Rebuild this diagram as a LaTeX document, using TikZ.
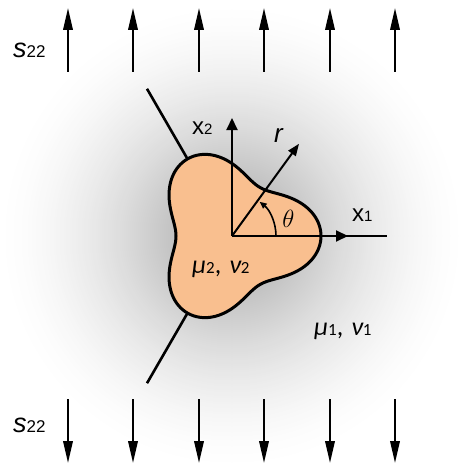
\documentclass[tikz,border=0pt]{standalone}
\usepackage{fontspec}
\setmainfont{Liberation Sans}
\newfontfamily\calib{Carlito}
\usetikzlibrary{arrows.meta}
\definecolor{incl}{RGB}{249,191,143}
\tikzset{
  load/.style={line width=2pt, -{Triangle[length=22pt,width=9.5pt]}},
  axisline/.style={line width=2pt},
  axisarrow/.style={line width=2pt, -{Triangle[length=12pt,width=11pt]}},
  rayarrow/.style={line width=2pt, -{Triangle[length=12pt,width=9pt]}},
  arcarrow/.style={line width=1.6pt, -{Triangle[length=7pt,width=6pt]}},
  crack/.style={line width=2.6pt},
  bnd/.style={line width=3pt, fill=incl},
  lbl/.style={inner sep=0pt, anchor=base west, text=black},
}
\begin{document}
\begin{tikzpicture}[x=1pt,y=-1pt]
\useasboundingbox (0,0) rectangle (474,476);
\fill[white] (0,0) rectangle (474,476);
% radial grey background
\foreach \r in {234,232,...,2}{
  \pgfmathsetmacro\g{1-0.38*(1-\r/235)^1.6}
  \definecolor{curgray}{gray}{\g}
  \fill[curgray] (232,236) circle (\r);
}
% load arrows
\foreach \i/\x in {1/68,2/133,3/199,4/264,5/330,6/395}{
  \coordinate (ta\i) at (\x,72);
  \coordinate (tb\i) at (\x,8);
  \draw[load] (ta\i) -- (tb\i);
  \coordinate (ba\i) at (\x,399);
  \coordinate (bb\i) at (\x,463);
  \draw[load] (ba\i) -- (bb\i);
}
\begin{scope}[shift={(232,236)},yscale=-1]
  \coordinate (O) at (0,0);
  \coordinate (c1a) at (120:86);
  \coordinate (c1b) at (120:170);
  \coordinate (c2a) at (240:86);
  \coordinate (c2b) at (240:170);
  \draw[crack] (c1a) -- (c1b);
  \draw[crack] (c2a) -- (c2b);
  \draw[bnd] plot[domain=0:357, samples=120, smooth cycle]
    ({(72.5+16.5*cos(3*\x))*cos(\x)}, {(72.5+16.5*cos(3*\x))*sin(\x)});
  \coordinate (x1e) at (155,0);
  \coordinate (x1t) at (116,0);
  \coordinate (x2t) at (0,118);
  \coordinate (rt) at (54:114);
  \draw[axisline] (O) -- (x1e);
  \draw[axisarrow] (O) -- (x1t);
  \draw[axisarrow] (O) -- (x2t);
  \draw[rayarrow] (O) -- (rt);
  \draw[arcarrow] (44,0) arc[start angle=0, end angle=51, radius=44];
\end{scope}
% labels
\node[lbl] (s22t) at (13,57.5) {\fontsize{27}{30}\selectfont\itshape s\upshape\fontsize{17}{19}\selectfont 22};
\node[lbl] (s22b) at (13,432) {\fontsize{27}{30}\selectfont\itshape s\upshape\fontsize{17}{19}\selectfont 22};
\node[lbl] (lx2) at (192,134) {\fontsize{24}{26}\selectfont x\fontsize{15}{17}\selectfont 2};
\node[lbl] (lx1) at (352,221) {\fontsize{24}{26}\selectfont x\fontsize{15}{17}\selectfont 1};
\node[lbl] (lr) at (274,142) {\fontsize{26}{28}\selectfont\itshape r};
\node[inner sep=0pt] (lth) at (288.5,218.5) {\fontsize{28}{30}\selectfont$\theta$};
\node[lbl] (lmu2) at (192,273) {\calib\fontsize{26}{28}\selectfont\itshape μ\upshape\fontsize{17}{19}\selectfont 2\fontsize{26}{28}\selectfont,\hspace{8pt}\itshape ν\upshape\fontsize{17}{19}\selectfont 2};
\node[lbl] (lmu1) at (314,335) {\calib\fontsize{26}{28}\selectfont\itshape μ\upshape\fontsize{17}{19}\selectfont 1\fontsize{26}{28}\selectfont,\hspace{8pt}\itshape ν\upshape\fontsize{17}{19}\selectfont 1};
\end{tikzpicture}
\end{document}
